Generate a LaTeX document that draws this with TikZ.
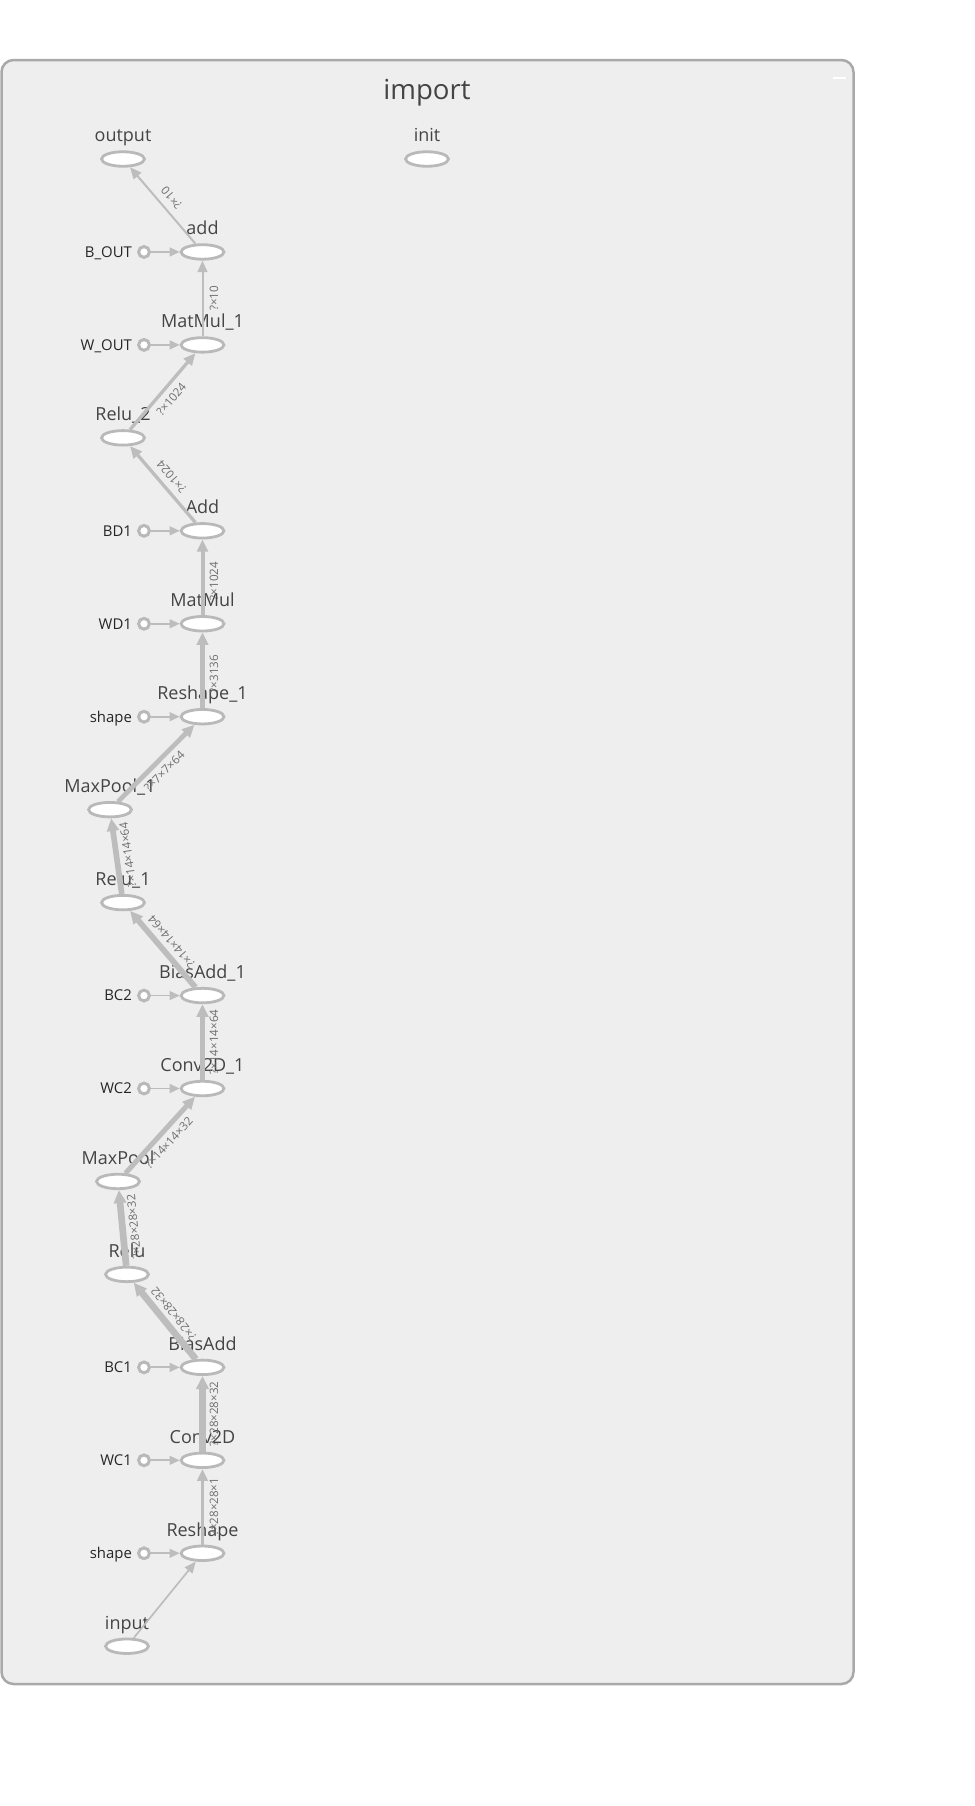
\documentclass[tikz,border=0pt]{standalone}
\usepackage{fontspec}
\setmainfont{Open Sans}
\usetikzlibrary{arrows.meta,shapes.geometric}
\definecolor{panelfill}{HTML}{EEEEEE}
\definecolor{panelline}{HTML}{A9A9A9}
\definecolor{edgegray}{HTML}{BDBDBD}
\definecolor{ringgray}{HTML}{B9B9B9}
\definecolor{namegray}{HTML}{444444}
\definecolor{constgray}{HTML}{262626}
\definecolor{shapegray}{HTML}{6E6E6E}

\begin{document}
\begin{tikzpicture}[x=0.5pt, y=-0.5pt,
    opnode/.style={ellipse, draw=ringgray, line width=1.4pt, fill=white, minimum width=21.45pt, minimum height=7.25pt, inner sep=0pt},
    oplbl/.style={font=\fontsize{9}{10}\selectfont, text=namegray, inner sep=0pt, outer sep=0pt, text depth=2.5pt, yshift=1.7pt},
    constnode/.style={circle, draw=ringgray, line width=1.5pt, fill=white, minimum size=5.4pt, inner sep=0pt},
    constlbl/.style={font=\fontsize{7.45}{9}\selectfont, text=constgray, inner sep=0pt, outer sep=0pt, text height=5.3pt, text depth=0pt, xshift=-2.6pt},
    flow/.style={draw=edgegray, -{Triangle[length=5.5pt 0.3, width=4.4pt 0.5]}},
    constflow/.style={draw=edgegray, line width=0.9pt, -{Triangle[length=5pt, width=4.4pt]}},
    tensorlbl/.style={font=\fontsize{5.8}{7}\selectfont, text=shapegray, sloped, allow upside down, below, inner sep=0pt, outer sep=3.6pt}]

    \useasboundingbox (0,0) rectangle (975,1806);

    % the import group
    \draw[draw=panelline, fill=panelfill, line width=1.25pt, rounded corners=6pt] (1.5,60) rectangle (853.5,1684);
    \draw[white, line width=1pt] (833,78) -- (846,78);
    \node[font=\fontsize{13.8}{16}\selectfont, text=namegray, anchor=base] at (427,99) (TITLE) {import};

    % op nodes
    \node[opnode, label={[oplbl]above:output}] at (123,159) (OUT) {};
    \node[opnode, label={[oplbl]above:init}] at (427,159) (INIT) {};
    \node[opnode, label={[oplbl]above:add}] at (202.5,251.95) (ADDB) {};
    \node[opnode, label={[oplbl]above:MatMul\_1}] at (202.5,344.9) (MM1) {};
    \node[opnode, label={[oplbl]above:Relu\_2}] at (123,437.85) (R2) {};
    \node[opnode, label={[oplbl]above:Add}] at (202.5,530.8) (ADDD) {};
    \node[opnode, label={[oplbl]above:MatMul}] at (202.5,623.75) (MM) {};
    \node[opnode, label={[oplbl]above:Reshape\_1}] at (202.5,716.7) (RS1) {};
    \node[opnode, label={[oplbl]above:MaxPool\_1}] at (110,809.65) (MP1) {};
    \node[opnode, label={[oplbl]above:Relu\_1}] at (123,902.6) (R1) {};
    \node[opnode, label={[oplbl]above:BiasAdd\_1}] at (202.5,995.55) (BA1) {};
    \node[opnode, label={[oplbl]above:Conv2D\_1}] at (202.5,1088.5) (CV1) {};
    \node[opnode, label={[oplbl]above:MaxPool}] at (118,1181.45) (MP) {};
    \node[opnode, label={[oplbl]above:Relu}] at (127,1274.4) (R) {};
    \node[opnode, label={[oplbl]above:BiasAdd}] at (202.5,1367.35) (BA) {};
    \node[opnode, label={[oplbl]above:Conv2D}] at (202.5,1460.3) (CV) {};
    \node[opnode, label={[oplbl]above:Reshape}] at (202.5,1553.25) (RS) {};
    \node[opnode, label={[oplbl]above:input}] at (127,1646.2) (IN) {};

    % constants
    \node[constnode, label={[constlbl]left:B\_OUT}] at (144,251.95) (BOUT) {};
    \node[constnode, label={[constlbl]left:W\_OUT}] at (144,344.9) (WOUT) {};
    \node[constnode, label={[constlbl]left:BD1}] at (144,530.8) (BD1) {};
    \node[constnode, label={[constlbl]left:WD1}] at (144,623.75) (WD1) {};
    \node[constnode, label={[constlbl]left:shape}] at (144,716.7) (SH1) {};
    \node[constnode, label={[constlbl]left:BC2}] at (144,995.55) (BC2) {};
    \node[constnode, label={[constlbl]left:WC2}] at (144,1088.5) (WC2) {};
    \node[constnode, label={[constlbl]left:BC1}] at (144,1367.35) (BC1) {};
    \node[constnode, label={[constlbl]left:WC1}] at (144,1460.3) (WC1) {};
    \node[constnode, label={[constlbl]left:shape}] at (144,1553.25) (SH) {};

    \draw[constflow] (BOUT) -- (ADDB);
    \draw[constflow] (WOUT) -- (MM1);
    \draw[constflow] (BD1) -- (ADDD);
    \draw[constflow] (WD1) -- (MM);
    \draw[constflow] (SH1) -- (RS1);
    \draw[constflow] (BC2) -- (BA1);
    \draw[constflow] (WC2) -- (CV1);
    \draw[constflow] (BC1) -- (BA);
    \draw[constflow] (WC1) -- (CV);
    \draw[constflow] (SH) -- (RS);

    % data flow
    \draw[flow, line width=0.85pt] (IN) -- (RS);
    \draw[flow, line width=1.65pt] (RS) to node[tensorlbl] (T1) {?×28×28×1} (CV);
    \draw[flow, line width=3.35pt] (CV) to node[tensorlbl] (T2) {?×28×28×32} (BA);
    \draw[flow, line width=3.35pt] (BA) to node[tensorlbl] (T3) {?×28×28×32} (R);
    \draw[flow, line width=3.35pt] (R) to node[tensorlbl] (T4) {?×28×28×32} (MP);
    \draw[flow, line width=2.5pt] (MP) to node[tensorlbl] (T5) {?×14×14×32} (CV1);
    \draw[flow, line width=2.85pt] (CV1) to node[tensorlbl] (T6) {?×14×14×64} (BA1);
    \draw[flow, line width=2.85pt] (BA1) to node[tensorlbl] (T7) {?×14×14×64} (R1);
    \draw[flow, line width=2.85pt] (R1) to node[tensorlbl] (T8) {?×14×14×64} (MP1);
    \draw[flow, line width=2.35pt] (MP1) to node[tensorlbl] (T9) {?×7×7×64} (RS1);
    \draw[flow, line width=2.35pt] (RS1) to node[tensorlbl, pos=0.45] (T10) {?×3136} (MM);
    \draw[flow, line width=2pt] (MM) to node[tensorlbl, pos=0.45] (T11) {?×1024} (ADDD);
    \draw[flow, line width=1.65pt] (ADDD) to node[tensorlbl] (T12) {?×1024} (R2);
    \draw[flow, line width=1.65pt] (R2) to node[tensorlbl] (T13) {?×1024} (MM1);
    \draw[flow, line width=1pt] (MM1) to node[tensorlbl] (T14) {?×10} (ADDB);
    \draw[flow, line width=1pt] (ADDB) to node[tensorlbl] (T15) {?×10} (OUT);

\end{tikzpicture}
\end{document}
